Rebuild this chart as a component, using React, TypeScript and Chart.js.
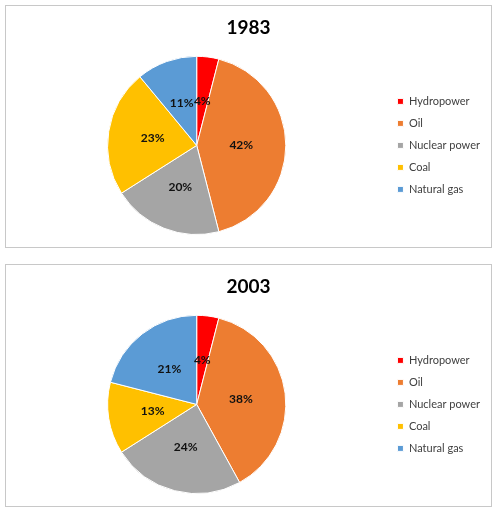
import { useEffect, useRef } from "react";
import { Chart, registerables, Plugin } from "chart.js";

Chart.register(...registerables);

const sources = ["Hydropower", "Oil", "Nuclear power", "Coal", "Natural gas"];
const colors = ["#FF0000", "#ED7D31", "#A5A5A5", "#FFC000", "#5B9BD5"];
const shares1983 = [4, 42, 20, 23, 11];
const shares2003 = [4, 38, 24, 13, 21];

const FONT = "Lato, 'Open Sans', sans-serif";

// draws the % labels in the middle of each slice
const sliceLabels: Plugin<"pie"> = {
  id: "sliceLabels",
  afterDatasetsDraw(chart) {
    const ctx = chart.ctx;
    const meta = chart.getDatasetMeta(0);
    const values = chart.data.datasets[0].data as number[];
    ctx.save();
    ctx.font = `bold 12px ${FONT}`;
    ctx.fillStyle = "#111111";
    ctx.textAlign = "center";
    ctx.textBaseline = "middle";
    meta.data.forEach((arc, i) => {
      const pos = arc.tooltipPosition(false);
      ctx.fillText(values[i] + "%", pos.x, pos.y);
    });
    ctx.restore();
  },
};

const PieBox: React.FC<{ year: string; values: number[]; top: number }> = ({
  year,
  values,
  top,
}) => {
  const canvasRef = useRef<HTMLCanvasElement | null>(null);

  useEffect(() => {
    if (!canvasRef.current) return;
    const chart = new Chart(canvasRef.current, {
      type: "pie",
      data: {
        labels: sources,
        datasets: [
          {
            data: values,
            backgroundColor: colors,
            borderColor: "#ffffff",
            borderWidth: 1,
          },
        ],
      },
      options: {
        responsive: false,
        animation: false,
        layout: { padding: { left: 1, right: 1, top: 0, bottom: 12 } },
        plugins: {
          title: {
            display: true,
            text: year,
            color: "#000000",
            font: { family: FONT, size: 19, weight: "bold" },
            padding: { top: 10, bottom: 17 },
          },
          legend: {
            position: "right",
            fullSize: false,
            labels: {
              boxWidth: 6,
              boxHeight: 6,
              padding: 11,
              color: "#404040",
              font: { family: FONT, size: 11 },
            },
          },
          tooltip: { enabled: false },
        },
      },
      plugins: [sliceLabels],
    });
    return () => chart.destroy();
  }, [year, values]);

  return (
    <div
      style={{
        position: "absolute",
        left: 5,
        top,
        width: 485,
        height: 241,
        border: "1px solid #c8c8c8",
        background: "#ffffff",
      }}
    >
      <canvas ref={canvasRef} width={485} height={241} style={{ display: "block" }} />
    </div>
  );
};

export default function App() {
  return (
    <div style={{ position: "absolute", left: 0, top: 0, width: 499, height: 512, background: "#ffffff" }}>
      <PieBox year="1983" values={shares1983} top={5} />
      <PieBox year="2003" values={shares2003} top={264} />
    </div>
  );
}
